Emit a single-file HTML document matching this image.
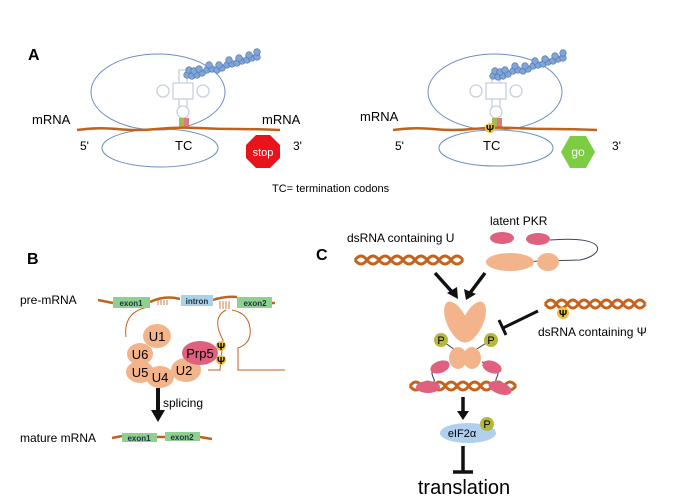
<!DOCTYPE html>
<html><head><meta charset="utf-8"><style>
body{margin:0;background:#fff}
svg{display:block;font-family:"Liberation Sans",Arial,sans-serif}
</style></head><body>
<svg width="685" height="499" viewBox="0 0 685 499" xmlns="http://www.w3.org/2000/svg">
<defs>
<g id="trna" fill="#fff" stroke="#c8d0dc" stroke-width="1.3">
<rect x="-4" y="-30" width="8" height="14"/>
<rect x="-10" y="-17" width="20" height="16"/>
<circle cx="-20" cy="-9" r="6"/><circle cx="20" cy="-9" r="6"/>
<rect x="-4" y="-1" width="8" height="8"/>
<circle cx="0" cy="12" r="6"/>
</g>
<g id="chain" fill="#7fa6d8" stroke="#4d6f9f" stroke-width="0.6">
<circle cx="0" cy="8" r="3.3"/><circle cx="5" cy="9" r="3.3"/><circle cx="10" cy="8" r="3.3"/><circle cx="15" cy="6" r="3.3"/><circle cx="20" cy="3" r="3.3"/><circle cx="25" cy="2" r="3.3"/><circle cx="30" cy="3" r="3.3"/><circle cx="35" cy="1" r="3.3"/><circle cx="40" cy="-2" r="3.3"/><circle cx="45" cy="-3" r="3.3"/><circle cx="50" cy="-4" r="3.3"/><circle cx="55" cy="-6" r="3.3"/><circle cx="60" cy="-7" r="3.3"/><circle cx="65" cy="-9" r="3.3"/><circle cx="70" cy="-10" r="3.3"/>
<circle cx="2" cy="3" r="3.3"/><circle cx="7" cy="4" r="3.3"/><circle cx="12" cy="2" r="3.3"/><circle cx="22" cy="-2" r="3.3"/><circle cx="32" cy="-2" r="3.3"/><circle cx="42" cy="-7" r="3.3"/><circle cx="52" cy="-9" r="3.3"/><circle cx="62" cy="-12" r="3.3"/><circle cx="70" cy="-15" r="3.3"/>
</g>
<g id="helix" fill="none" stroke="#c8621a" stroke-width="3">
<path d="M0,0 q6,-8 12,0 t12,0 t12,0 t12,0 t12,0 t12,0 t12,0 t12,0 t12,0"/>
<path d="M0,0 q6,8 12,0 t12,0 t12,0 t12,0 t12,0 t12,0 t12,0 t12,0 t12,0"/>
</g>
</defs>

<!-- Panel A -->
<text x="28" y="60" font-size="16" font-weight="bold">A</text>
<ellipse cx="158" cy="92" rx="67" ry="38" fill="none" stroke="#6d8fc4" stroke-width="1"/>
<ellipse cx="160" cy="148" rx="58" ry="19" fill="none" stroke="#6d8fc4" stroke-width="1"/>
<use href="#trna" x="183" y="100"/>
<use href="#chain" x="187" y="67"/>
<rect x="179" y="118" width="5" height="10" fill="#a8b84a"/><rect x="184" y="118" width="5" height="10" fill="#d97a8a"/>
<path d="M77,130 q20,-3 40,-1 t40,0 t40,-1 t40,1 t43,1" fill="none" stroke="#c0621c" stroke-width="2.5"/>
<text x="32" y="124" font-size="13">mRNA</text>
<text x="262" y="124" font-size="13">mRNA</text>
<text x="80" y="150" font-size="12">5'</text>
<text x="175" y="150" font-size="13">TC</text>
<text x="293" y="150" font-size="12">3'</text>
<polygon points="256,135 270,135 280,145 280,158 270,168 256,168 246,158 246,145" fill="#e8141c"/>
<text x="263" y="156" font-size="11" fill="#fff" text-anchor="middle">stop</text>

<ellipse cx="495" cy="92" rx="67" ry="38" fill="none" stroke="#6d8fc4" stroke-width="1"/>
<ellipse cx="496" cy="148" rx="57" ry="18" fill="none" stroke="#6d8fc4" stroke-width="1"/>
<use href="#trna" x="496" y="100"/>
<use href="#chain" x="493" y="68"/>
<rect x="492" y="118" width="5" height="10" fill="#a8b84a"/><rect x="497" y="118" width="5" height="10" fill="#d97a8a"/>
<path d="M393,130 q20,-3 40,-1 t40,0 t40,-1 t40,1 t44,1" fill="none" stroke="#c0621c" stroke-width="2.5"/>
<circle cx="490" cy="128" r="5" fill="#f0c040"/><text x="490" y="132" font-size="10" text-anchor="middle" font-weight="bold">Ψ</text>
<text x="360" y="121" font-size="13">mRNA</text>
<text x="395" y="150" font-size="12">5'</text>
<text x="483" y="150" font-size="13">TC</text>
<text x="612" y="150" font-size="12">3'</text>
<polygon points="570,136 586,136 595,152 586,168 570,168 561,152" fill="#7ccc44"/>
<text x="578" y="156" font-size="12" fill="#fff" text-anchor="middle">go</text>
<text x="272" y="192" font-size="11">TC= termination codons</text>

<!-- Panel B -->
<text x="27" y="264" font-size="16" font-weight="bold">B</text>
<text x="20" y="304" font-size="12">pre-mRNA</text>
<path d="M98,300 L113,303 M150,302 q15,-7 30,-3 M213,300 q12,-4 24,-3 M272,303 l3,0" stroke="#c0621c" stroke-width="2.5" fill="none"/>
<path d="M158,300 v5 M161,300 v5 M164,300 v5 M167,300 v5 M220,301 v8 M223,301 v8 M226,301 v8 M229,301 v8" stroke="#c0621c" stroke-width="0.8"/>
<path d="M148,307 q-25,5 -22,30" stroke="#c0621c" stroke-width="1" fill="none"/>
<path d="M226,310 q-15,8 -3,30 L220,370 L208,370 M232,310 q16,3 18,18 q2,15 -12,20 L238,370 L285,370" stroke="#c0621c" stroke-width="1" fill="none"/>
<rect x="113" y="297" width="37" height="11" fill="#8fcf8f"/><text x="131" y="306" font-size="8" font-weight="bold" text-anchor="middle" fill="#234">exon1</text>
<rect x="181" y="295" width="32" height="11" fill="#a9d1ea"/><text x="197" y="304" font-size="8" font-weight="bold" text-anchor="middle" fill="#234">intron</text>
<rect x="237" y="297" width="35" height="11" fill="#8fcf8f"/><text x="255" y="306" font-size="8" font-weight="bold" text-anchor="middle" fill="#234">exon2</text>
<g fill="#f3b48c">
<ellipse cx="157" cy="336" rx="14" ry="12"/><ellipse cx="140" cy="354" rx="13" ry="11"/><ellipse cx="140" cy="372" rx="14" ry="11"/><ellipse cx="160" cy="377" rx="14" ry="11"/><ellipse cx="186" cy="370" rx="15" ry="12"/>
</g>
<ellipse cx="200" cy="353" rx="18" ry="12" fill="#e06080"/>
<g font-size="13" text-anchor="middle"><text x="157" y="341">U1</text><text x="140" y="359">U6</text><text x="140" y="377">U5</text><text x="160" y="382">U4</text><text x="184" y="375">U2</text><text x="200" y="358">Prp5</text></g>
<circle cx="221" cy="346" r="5" fill="#f0c040"/><text x="221" y="350" font-size="10" text-anchor="middle" font-weight="bold">Ψ</text>
<circle cx="221" cy="360" r="5" fill="#f0c040"/><text x="221" y="364" font-size="10" text-anchor="middle" font-weight="bold">Ψ</text>
<line x1="158" y1="388" x2="158" y2="412" stroke="#111" stroke-width="4"/>
<polygon points="151,410 165,410 158,422" fill="#111"/>
<text x="163" y="407" font-size="12">splicing</text>
<text x="20" y="442" font-size="12">mature mRNA</text>
<path d="M112,438 L122,436 M157,437 L165,437 M200,437 L212,439" stroke="#c0621c" stroke-width="2.5"/>
<rect x="122" y="433" width="35" height="9" fill="#8fcf8f"/><text x="139" y="441" font-size="8" font-weight="bold" text-anchor="middle" fill="#234">exon1</text>
<rect x="165" y="432" width="35" height="9" fill="#8fcf8f"/><text x="182" y="440" font-size="8" font-weight="bold" text-anchor="middle" fill="#234">exon2</text>

<!-- Panel C -->
<text x="316" y="260" font-size="16" font-weight="bold">C</text>
<text x="347" y="242" font-size="12">dsRNA containing U</text>
<use href="#helix" x="355" y="260"/>
<text x="490" y="225" font-size="12">latent PKR</text>
<path d="M550,240 C610,235 605,255 580,260 L508,262" stroke="#445" fill="none" stroke-width="1"/>
<ellipse cx="502" cy="238" rx="12" ry="6" fill="#e06080"/>
<ellipse cx="538" cy="239" rx="12" ry="6" fill="#e06080"/>
<ellipse cx="510" cy="262" rx="24" ry="9" fill="#f3b48c"/>
<ellipse cx="548" cy="262" rx="11" ry="9" fill="#f3b48c"/>
<line x1="435" y1="273" x2="453" y2="293" stroke="#111" stroke-width="3.5"/>
<polygon points="447,293 458,299 457,287" fill="#111"/>
<line x1="485" y1="273" x2="470" y2="293" stroke="#111" stroke-width="3.5"/>
<polygon points="464,289 466,300 476,294" fill="#111"/>
<ellipse cx="457" cy="322" rx="10" ry="22" transform="rotate(-25 457 322)" fill="#f3b48c"/>
<ellipse cx="473" cy="322" rx="10" ry="22" transform="rotate(25 473 322)" fill="#f3b48c"/>
<path d="M441,340 L458,352 M491,340 L472,352" stroke="#334" stroke-width="1"/>
<ellipse cx="458" cy="358" rx="9" ry="11" fill="#f3b48c"/><ellipse cx="472" cy="358" rx="9" ry="11" fill="#f3b48c"/>
<circle cx="441" cy="340" r="7" fill="#b5b83c"/><text x="441" y="344" font-size="11" text-anchor="middle">P</text>
<circle cx="491" cy="340" r="7" fill="#b5b83c"/><text x="491" y="344" font-size="11" text-anchor="middle">P</text>
<line x1="538" y1="311" x2="503" y2="328" stroke="#111" stroke-width="3"/>
<line x1="499" y1="320" x2="506" y2="335" stroke="#111" stroke-width="3"/>
<use href="#helix" x="545" y="304" transform="translate(545 304) scale(0.93 1) translate(-545 -304)"/>
<circle cx="563" cy="313" r="6" fill="#f0c040"/><text x="563" y="317" font-size="10" text-anchor="middle" font-weight="bold">Ψ</text>
<text x="538" y="336" font-size="12">dsRNA containing Ψ</text>
<path d="M448,362 q-20,5 -15,15 q5,8 -10,15 M482,362 q20,5 15,15 q-5,8 12,15" stroke="#334" fill="none" stroke-width="1"/>
<ellipse cx="440" cy="367" rx="10" ry="6" transform="rotate(-20 440 367)" fill="#e06080"/>
<ellipse cx="492" cy="367" rx="10" ry="6" transform="rotate(20 492 367)" fill="#e06080"/>
<use href="#helix" x="410" y="386" transform="translate(410 386) scale(0.98 1) translate(-410 -386)"/>
<ellipse cx="428" cy="387" rx="12" ry="6" fill="#e06080"/>
<ellipse cx="500" cy="388" rx="12" ry="6" transform="rotate(20 500 388)" fill="#e06080"/>
<line x1="463" y1="397" x2="463" y2="412" stroke="#111" stroke-width="3.5"/>
<polygon points="457,411 469,411 463,420" fill="#111"/>
<ellipse cx="468" cy="433" rx="28" ry="10" fill="#b0d0ee"/>
<text x="462" y="437" font-size="11" text-anchor="middle">eIF2α</text>
<circle cx="487" cy="424" r="7" fill="#b5b83c"/><text x="487" y="428" font-size="11" text-anchor="middle">P</text>
<line x1="463" y1="446" x2="463" y2="472" stroke="#111" stroke-width="3.5"/>
<line x1="453" y1="472" x2="473" y2="472" stroke="#111" stroke-width="3.5"/>
<text x="464" y="494" font-size="20" text-anchor="middle">translation</text>
</svg>
</body></html>
